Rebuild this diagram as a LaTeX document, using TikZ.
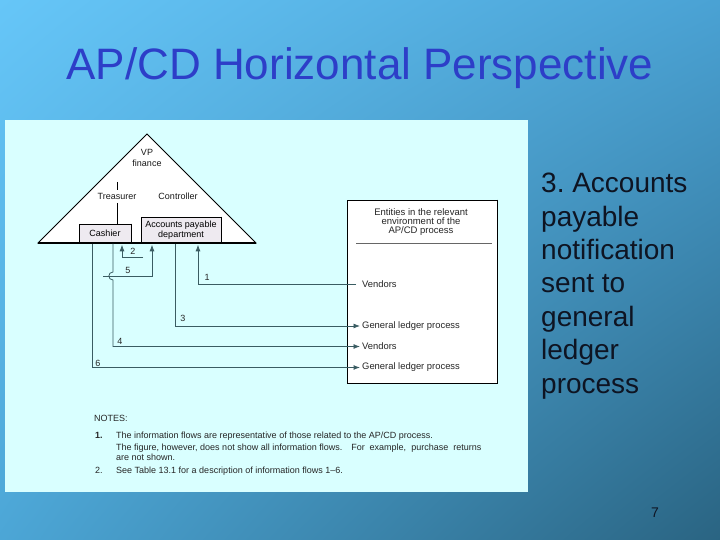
\documentclass[tikz,border=0pt]{standalone}
\usepackage{fontspec}
\setmainfont{Liberation Sans}
\usetikzlibrary{arrows.meta,shadings}
\definecolor{bgUL}{RGB}{102,198,248}
\definecolor{bgUR}{RGB}{74,162,212}
\definecolor{bgLL}{RGB}{76,166,214}
\definecolor{bgLR}{RGB}{42,100,130}
\definecolor{panel}{RGB}{217,255,255}
\definecolor{titleblue}{RGB}{45,62,200}
\definecolor{bodyink}{RGB}{14,20,34}
\definecolor{flowc}{RGB}{58,92,98}
\definecolor{boxfill}{RGB}{238,234,240}
\tikzset{
  lab/.style={inner sep=0pt, font=\fontsize{9}{10}\selectfont, text=black!90},
  flowlab/.style={inner sep=0pt, font=\fontsize{9}{10}\selectfont, text=black!85},
  ent/.style={inner sep=0pt, anchor=west, font=\fontsize{9.4}{10}\selectfont, text=black!85},
  note/.style={inner sep=0pt, anchor=base west, font=\fontsize{9}{10}\selectfont, text=black!85},
  orgbox/.style={draw=black, line width=0.6pt, fill=boxfill, inner sep=0pt, font=\fontsize{9}{10}\selectfont, align=center},
  flow/.style={draw=flowc, line width=0.8pt},
  tip/.style={-{Latex[length=6.5pt,width=5pt]}}
}
\begin{document}
\begin{tikzpicture}[x=1pt,y=-1pt]
\useasboundingbox (0,0) rectangle (720,540);
\shade[upper left=bgUL, upper right=bgUR, lower left=bgLL, lower right=bgLR] (0,0) rectangle (720,540);

% title
\node[anchor=base, inner sep=0pt, text=titleblue, font=\fontsize{44}{50}\selectfont] (title) at (360,80) {AP/CD Horizontal Perspective};

% right text
\node[anchor=base west, inner sep=0pt, text=bodyink, align=left, font=\fontsize{28}{33.4}\selectfont] (side) at (541,393)
  {3.\ Accounts\\payable\\notification\\sent to\\general\\ledger\\process};

% page number
\node[anchor=base, inner sep=0pt, text=bodyink, font=\fontsize{14}{16}\selectfont] (pnum) at (655,517) {7};

% panel
\fill[panel] (5,120) rectangle (528,492);

% triangle (organisation)
\filldraw[fill=white, draw=black, line width=0.8pt] (147,134) -- (256,243) -- (38,243) -- cycle;
\node[lab] (vp) at (147,152) {VP};
\node[lab] (fin) at (147,163) {finance};
\node[lab] (treas) at (117,196) {Treasurer};
\node[lab] (ctrl) at (178,196) {Controller};
\node[orgbox, minimum width=52, minimum height=19] (cash) at (105,233.5) {Cashier};
\node[orgbox, minimum width=80, minimum height=26] (ap) at (181,230) {Accounts payable\\department};
\draw[line width=1.4pt] (cash.north east) -- (cash.south east);
\draw[line width=1.4pt] (ap.north east) -- (ap.south east);
\draw[line width=0.6pt] (117,182) -- (117,190);
\draw[line width=0.6pt] (117,203) -- (117,224);
\draw[line width=1.8pt] (38,243) -- (256,243);

% entity box
\node[draw=black, line width=0.7pt, fill=white, minimum width=150, minimum height=183, inner sep=0pt] (envbox) at (422,291.5) {};
\draw[line width=1.5pt] (envbox.north east) -- (envbox.south east) -- (envbox.south west);
\node[inner sep=0pt, align=center, font=\fontsize{9.5}{9.3}\selectfont, text=black!85] (envhead) at (421,222)
  {Entities in the relevant\\environment of the\\AP/CD process};
\draw[line width=0.5pt, black!60] (356,243) -- (492,243);
\node[ent] (ven1) at (362,284) {Vendors};
\node[ent] (gl1) at (362,326) {General ledger process};
\node[ent] (ven2) at (362,346.5) {Vendors};
\node[ent] (gl2) at (362,367.5) {General ledger process};

% connection points on the base
\coordinate (b1) at (198,244.8);
\coordinate (b2) at (122,244.8);
\coordinate (b3) at (175,243.5);
\coordinate (b4) at (113,243.5);
\coordinate (b5) at (152,244.8);
\coordinate (b6) at (92,243.5);
\coordinate (s2) at (143,257);
\coordinate (s5) at (103,276);

% flows
\draw[flow, tip] ([xshift=-6pt]ven1.west) -| (b1);
\draw[flow, tip] (s2) -| (b2);
\draw[flow, tip] (b3) |- ([xshift=-2pt]gl1.west);
\draw[flow, tip] (b4) -- (113,272) .. controls (107.5,272) and (107.5,280) .. (113,280) |- ([xshift=-2pt]ven2.west);
\draw[flow, tip] (s5) -| (b5);
\draw[flow, tip, line width=1pt] (b6) |- ([xshift=-2pt]gl2.west);

\node[flowlab] (n1) at (207,277) {1};
\node[flowlab] (n2) at (133,251) {2};
\node[flowlab] (n3) at (183,318) {3};
\node[flowlab] (n4) at (120,341) {4};
\node[flowlab] (n5) at (128,270) {5};
\node[flowlab] (n6) at (98,363) {6};

% notes
\node[note] (notes) at (94,421.5) {NOTES:};
\node[note] (k1) at (95,438.5) {\textbf{1.}};
\node[note] (t1a) at (116,438.5) {The information flows are representative of those related to the AP/CD process.};
\node[note] (t1b) at (116,450.5) {The figure, however, does not show all information flows.\hspace{9pt}\makebox[130pt][s]{For example, purchase returns}};
\node[note] (t1c) at (116,460.5) {are not shown.};
\node[note] (k2) at (95,473.5) {2.};
\node[note] (t2) at (116,473.5) {See Table 13.1 for a description of information flows 1--6.};
\end{tikzpicture}
\end{document}
